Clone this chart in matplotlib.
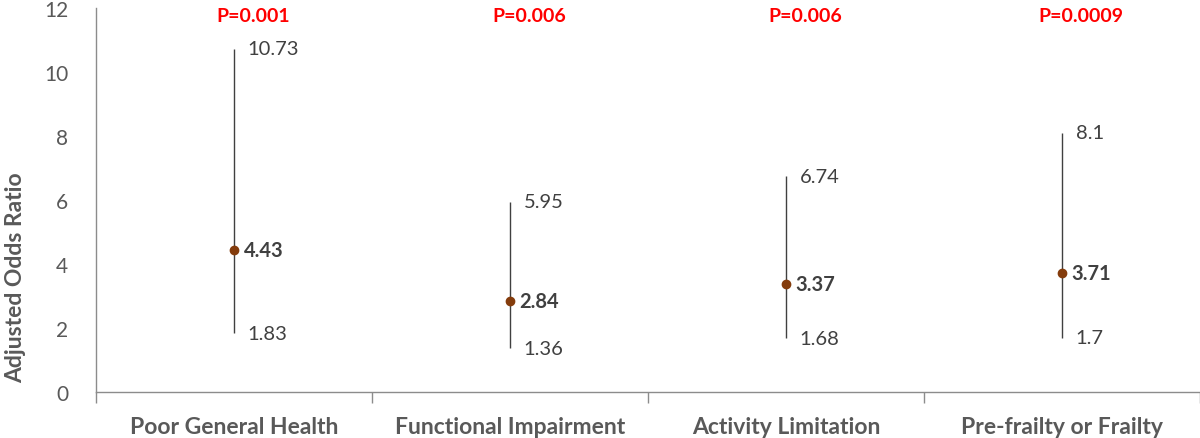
import matplotlib.pyplot as plt
import numpy as np

categories = ["Poor General Health", "Functional Impairment",
              "Activity Limitation", "Pre-frailty or Frailty"]
odds_ratio = [4.43, 2.84, 3.37, 3.71]
ci_lower = [1.83, 1.36, 1.68, 1.7]
ci_upper = [10.73, 5.95, 6.74, 8.1]
upper_labels = ["10.73", "5.95", "6.74", "8.1"]
lower_labels = ["1.83", "1.36", "1.68", "1.7"]
or_labels = ["4.43", "2.84", "3.37", "3.71"]
p_values = ["P=0.001", "P=0.006", "P=0.006", "P=0.0009"]

plt.rcParams['font.family'] = ['Lato', 'DejaVu Sans']
axis_col = '#8c8c8c'
text_col = '#595959'
label_col = '#404040'

fig = plt.figure(figsize=(12, 4.39), dpi=100)
ax = fig.add_axes([0.08, 0.1048, 0.92, 0.8747])

x = np.arange(len(categories))
ax.vlines(x, ci_lower, ci_upper, color='#404040', linewidth=1.0, zorder=2)
ax.plot(x, odds_ratio, 'o', color='#843C0C', markersize=6, zorder=3)

for i in range(len(categories)):
    ax.text(x[i] + 0.05, ci_upper[i], upper_labels[i], ha='left', va='center',
            fontsize=14.5, color=label_col)
    ax.text(x[i] + 0.05, ci_lower[i], lower_labels[i], ha='left', va='center',
            fontsize=14.5, color=label_col)
    ax.text(x[i] + 0.035, odds_ratio[i], or_labels[i], ha='left', va='center',
            fontsize=14.5, color=label_col, fontweight='bold')
    ax.text(x[i] + 0.068, 11.75, p_values[i], ha='center', va='center',
            fontsize=14, color='#ff0000', fontweight='bold')

ax.set_xlim(-0.5, len(categories) - 0.5)
ax.set_ylim(0, 12)
ax.set_yticks(range(0, 13, 2))
ax.tick_params(axis='y', length=0, pad=20, labelsize=15, labelcolor=text_col)

ax.set_xticks(x)
ax.set_xticklabels(categories, fontsize=16.5, fontweight='bold', color=text_col)
ax.tick_params(axis='x', length=0, pad=17)
ax.set_xticks(np.arange(-0.5, len(categories), 1.0), minor=True)
ax.tick_params(axis='x', which='minor', length=8, width=1, color=axis_col, direction='out')

for side in ['top', 'right']:
    ax.spines[side].set_visible(False)
for side in ['left', 'bottom']:
    ax.spines[side].set_color(axis_col)
    ax.spines[side].set_linewidth(1)

ax.set_ylabel("Adjusted Odds Ratio", fontsize=16.5, fontweight='bold', color=text_col,
              va='center')
ax.yaxis.set_label_coords(-0.073, 0.30)

fig.savefig("out.png", dpi=100)
